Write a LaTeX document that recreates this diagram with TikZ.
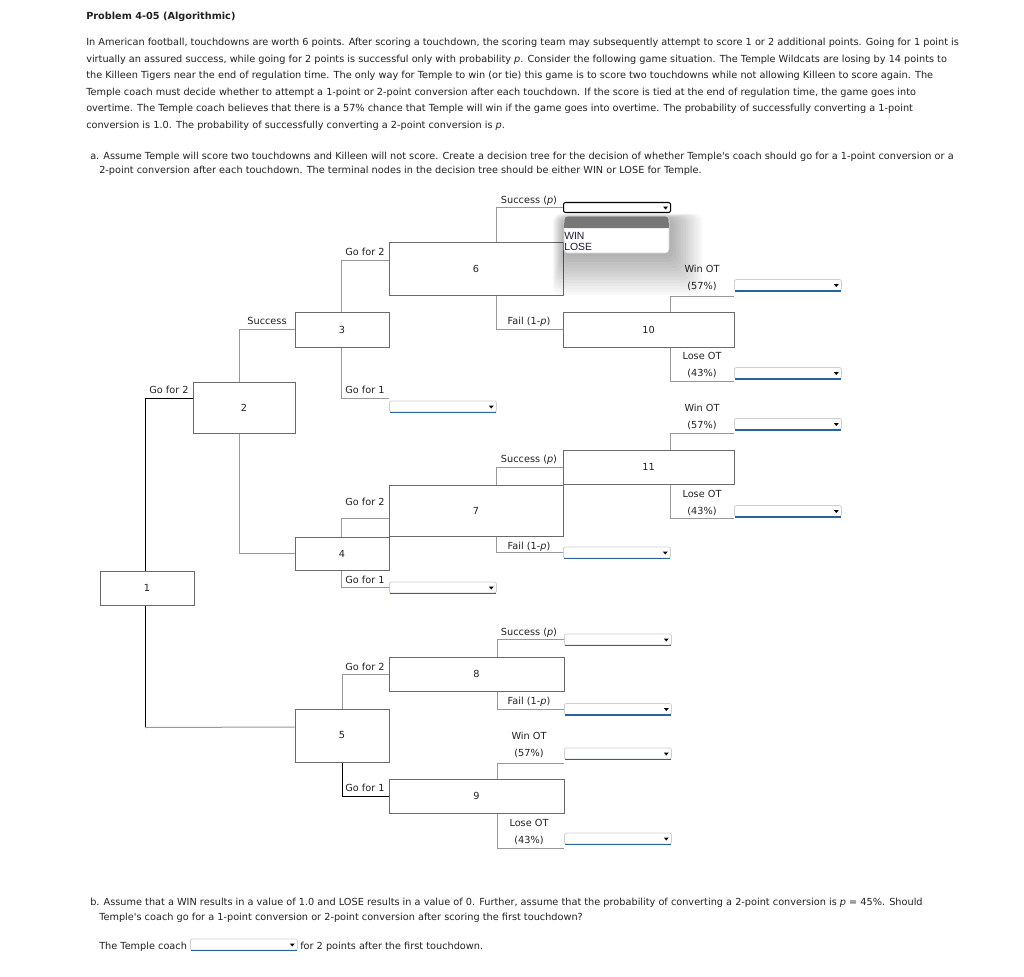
\documentclass[tikz,border=0pt]{standalone}
\usepackage{fontspec}
\setmainfont{DejaVu Sans}
\newfontfamily\listfont{Liberation Sans}
\usetikzlibrary{calc}
\definecolor{txt}{HTML}{222222}
\definecolor{boxc}{HTML}{6A6A6A}
\definecolor{linec}{HTML}{999999}
\definecolor{ddblue}{HTML}{2A6496}
\definecolor{ddgray}{HTML}{CFCFCF}
\definecolor{listhead}{HTML}{777777}
\definecolor{listtxt}{HTML}{1C1C3A}
\newcommand\fs{\fontsize{7.3}{9}\selectfont}
\newcommand\dropd[3]{%
  \node[dd] (#1) at (#2,#3) {};
  \draw[ddblue, line width=1.1pt] ($(#1.south west)+(1,0)$) -- ($(#1.south east)+(-1,0)$);
  \fill[black] ($(#1.east)+(-8,-1)$) -- ++(5,0) -- ++(-2.5,3) -- cycle;
}
\begin{document}
\begin{tikzpicture}[x=0.75pt,y=-0.75pt,
  every node/.style={font=\fs, text=txt},
  txtl/.style={anchor=west, inner sep=0pt, text height=5.4pt, text depth=1.5pt, yshift=-1.1pt},
  lab/.style={inner sep=0pt, text height=5.4pt, text depth=1.5pt, yshift=-1.1pt},
  tbox/.style={draw=boxc, line width=0.75pt, fill=white, inner sep=0pt},
  conn/.style={draw=linec, line width=0.75pt},
  dconn/.style={draw=black, line width=0.75pt},
  dd/.style={draw=ddgray, rounded corners=1.5pt, line width=0.6pt, fill=white, minimum width=80.25pt, minimum height=8.25pt, inner sep=0pt, anchor=west},
]
\useasboundingbox[fill=white] (0,0) rectangle (1024,977);

% ---------- text ----------
\node[txtl, font=\fs\bfseries] (title) at (86,15) {Problem 4-05 (Algorithmic)};
\node[txtl] (p1) at (86,41) {In American football, touchdowns are worth 6 points. After scoring a touchdown, the scoring team may subsequently attempt to score 1 or 2 additional points. Going for 1 point is};
\node[txtl] (p2) at (86,58) {virtually an assured success, while going for 2 points is successful only with probability \textit{p}. Consider the following game situation. The Temple Wildcats are losing by 14 points to};
\node[txtl] (p3) at (86,74) {the Killeen Tigers near the end of regulation time. The only way for Temple to win (or tie) this game is to score two touchdowns while not allowing Killeen to score again. The};
\node[txtl] (p4) at (86,91) {Temple coach must decide whether to attempt a 1-point or 2-point conversion after each touchdown. If the score is tied at the end of regulation time, the game goes into};
\node[txtl] (p5) at (86,107) {overtime. The Temple coach believes that there is a 57\% chance that Temple will win if the game goes into overtime. The probability of successfully converting a 1-point};
\node[txtl] (p6) at (86,124) {conversion is 1.0. The probability of successfully converting a 2-point conversion is \textit{p}.};
\node[txtl] (a1) at (90,155) {a. Assume Temple will score two touchdowns and Killeen will not score. Create a decision tree for the decision of whether Temple\textquotesingle s coach should go for a 1-point conversion or a};
\node[txtl] (a2) at (99,169) {2-point conversion after each touchdown. The terminal nodes in the decision tree should be either WIN or LOSE for Temple.};

\node[txtl] (b1) at (90,901) {b. Assume that a WIN results in a value of 1.0 and LOSE results in a value of 0. Further, assume that the probability of converting a 2-point conversion is \textit{p} = 45\%. Should};
\node[txtl] (b2) at (99,916) {Temple\textquotesingle s coach go for a 1-point conversion or 2-point conversion after scoring the first touchdown?};
\node[txtl] (b3) at (99,945) {The Temple coach};
\dropd{g1}{190}{944.5}
\node[txtl] (b4) at (300,945) {for 2 points after the first touchdown.};

% ---------- boxes ----------
\node[tbox, minimum width=70.5pt,  minimum height=25.5pt] (n1)  at (147,588)   {1};
\node[tbox, minimum width=76.5pt,  minimum height=38.25pt] (n2) at (244,407.5) {2};
\node[tbox, minimum width=70.5pt,  minimum height=26.25pt] (n3) at (342,329.5) {3};
\node[tbox, minimum width=70.5pt,  minimum height=24.75pt] (n4) at (342,553.5) {4};
\node[tbox, minimum width=70.5pt,  minimum height=39.75pt] (n5) at (342,735.5) {5};
\node[tbox, minimum width=130.5pt, minimum height=39.75pt] (n6) at (476,268.5) {6};
\node[tbox, minimum width=130.5pt, minimum height=38.25pt] (n7) at (476,510.5) {7};
\node[tbox, minimum width=131.25pt, minimum height=25.5pt] (n8) at (476.5,674) {8};
\node[tbox, minimum width=131.25pt, minimum height=25.5pt] (n9) at (476.5,796) {9};
\node[tbox, minimum width=128.25pt, minimum height=26.25pt] (n10) at (648.5,329.5) {10};
\node[tbox, minimum width=128.25pt, minimum height=25.5pt] (n11) at (648.5,467) {11};

% ---------- dropdowns ----------
\dropd{d1}{389}{406.5}
\dropd{d2}{389}{587.5}
\dropd{d3}{563}{552.5}
\dropd{e1}{734}{285}
\dropd{e2}{734}{373}
\dropd{e3}{734}{424}
\dropd{e4}{734}{511}
\dropd{f1}{564}{639.5}
\dropd{f2}{564}{709}
\dropd{f3}{564}{753.5}
\dropd{f4}{564}{838.5}

% open dropdown
\node[dd, draw=black, line width=0.8pt, minimum height=7.5pt] (D) at (563,207.5) {};
\fill[black] ($(D.east)+(-8,-1)$) -- ++(5,0) -- ++(-2.5,3) -- cycle;

% ---------- connectors ----------
\draw[dconn] ($(n1.north)+(-2,0)$) |- ($(n2.west)+(0,-9.5)$);
\draw[dconn] ($(n1.south)+(-2,0)$) -- ($(n1.south)+(-2,122)$) coordinate (k15);
\draw[conn] (k15) -- ($(n5.west)+(0,-8.5)$);
\draw[conn] ($(n2.north)+(-5,0)$) |- (n3.west);
\draw[conn] ($(n2.south)+(-5,0)$) |- (n4.west);
\draw[conn] ($(n3.north)+(-1,0)$) |- ($(n6.west)+(0,-8.5)$);
\draw[conn] ($(n3.south)+(-1,0)$) |- ($(d1.west)+(0,-8.5)$);
\draw[conn] ($(n6.north)+(20,0)$) |- (D.west);
\draw[conn] ($(n6.south)+(20,0)$) |- (n10.west);
\draw[conn] ($(n10.north)+(21.5,0)$) |- ($(e1.west)+(0,11)$);
\draw[conn] ($(n10.south)+(21.5,0)$) |- ($(e2.west)+(0,8)$);
\draw[conn] ($(n11.north)+(21.5,0)$) |- ($(e3.west)+(0,9)$);
\draw[conn] ($(n11.south)+(21.5,0)$) |- ($(e4.west)+(0,7)$);
\draw[conn] ($(n4.north)+(-1,0)$) |- ($(n7.west)+(0,7.5)$);
\draw[conn] ($(n4.south)+(-1,0)$) |- (d2.west);
\draw[conn] ($(n7.north)+(20,0)$) |- (n11.west);
\draw[conn] ($(n7.south)+(20,0)$) |- (d3.west);
\draw[conn] (n5.north) |- (n8.west);
\draw[dconn] (n5.south) |- (n9.west);
\draw[conn] ($(n8.north)+(20.5,0)$) |- (f1.west);
\draw[conn] ($(n8.south)+(20.5,0)$) |- (f2.west);
\draw[conn] ($(n9.north)+(20.5,0)$) |- ($(f3.west)+(0,9.5)$);
\draw[conn] ($(n9.south)+(20.5,0)$) |- ($(f4.west)+(0,9.5)$);

% ---------- branch labels ----------
\node[lab] at (169,389) {Go for 2};
\node[lab] at (267,320) {Success};
\node[lab] at (365,251) {Go for 2};
\node[lab] at (365,389) {Go for 1};
\node[lab] at (529,199) {Success (\textit{p})};
\node[lab] at (529,320) {Fail (1-\textit{p})};
\node[lab] at (702,268) {Win OT};
\node[lab] at (702,285) {(57\%)};
\node[lab] at (702,355) {Lose OT};
\node[lab] at (702,372) {(43\%)};
\node[lab] at (702,407) {Win OT};
\node[lab] at (702,424) {(57\%)};
\node[lab] at (702,493) {Lose OT};
\node[lab] at (702,510) {(43\%)};
\node[lab] at (365,501) {Go for 2};
\node[lab] at (365,579) {Go for 1};
\node[lab] at (529,458) {Success (\textit{p})};
\node[lab] at (529,545) {Fail (1-\textit{p})};
\node[lab] at (529,631) {Success (\textit{p})};
\node[lab] at (529,700) {Fail (1-\textit{p})};
\node[lab] at (365,666) {Go for 2};
\node[lab] at (365,787) {Go for 1};
\node[lab] at (529,735) {Win OT};
\node[lab] at (529,752) {(57\%)};
\node[lab] at (529,822) {Lose OT};
\node[lab] at (529,839) {(43\%)};

% ---------- open list with shadow ----------
\foreach \i in {1,...,14}{
  \fill[black, opacity=0.022, rounded corners=6pt] (564-0.8*\i,218-0.3*\i) rectangle (669+2.4*\i,253+3*\i);
}
\draw[draw=ddgray, fill=white, rounded corners=2.5pt, line width=0.6pt] (564,216) rectangle (669,253);
\fill[listhead, rounded corners=2.5pt] (564.4,216.4) rectangle (668.6,228);
\fill[listhead] (564.4,223) rectangle (668.6,228);
\node[txtl, font=\listfont\fontsize{7.8}{9}\selectfont, text=listtxt] (win) at (564,235.5) {WIN};
\node[txtl, font=\listfont\fontsize{7.8}{9}\selectfont, text=listtxt] (lose) at (564,246.5) {LOSE};
\end{tikzpicture}
\end{document}
